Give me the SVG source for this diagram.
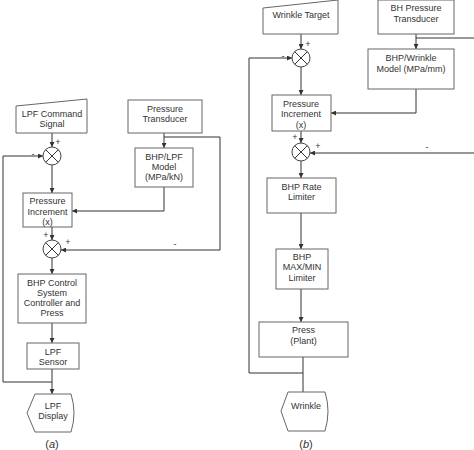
<svg xmlns="http://www.w3.org/2000/svg" width="474" height="450" viewBox="0 0 474 450">
<style>
.box{fill:#fff;stroke:#666;stroke-width:1}
.ln{fill:none;stroke:#333;stroke-width:1}
.sum{fill:#fff;stroke:#444;stroke-width:1}
text{font-family:"Liberation Sans",Arial,sans-serif;font-size:9px;fill:#333;text-anchor:middle}
.sg{font-size:9px}
.cap{font-size:11px}
</style>
<defs>
<marker id="ah" viewBox="0 0 6 6" refX="6" refY="3" markerWidth="5" markerHeight="5" orient="auto" markerUnits="userSpaceOnUse">
<path d="M0,0 L6,3 L0,6 z" fill="#333"/>
</marker>
</defs>
<rect width="474" height="450" fill="#fff"/>
<g id="connectors">
<path class="ln" d="M52,133 V147" marker-end="url(#ah)"/>
<path class="ln" d="M52,165 V193" marker-end="url(#ah)"/>
<path class="ln" d="M52,227 V240" marker-end="url(#ah)"/>
<path class="ln" d="M52,258 V274" marker-end="url(#ah)"/>
<path class="ln" d="M52,323 V343" marker-end="url(#ah)"/>
<path class="ln" d="M52,369 V394" marker-end="url(#ah)"/>
<path class="ln" d="M52,382 H3 V156 H43" marker-end="url(#ah)"/>
<path class="ln" d="M164,133 V148" marker-end="url(#ah)"/>
<path class="ln" d="M164,137 H220 V250 H61" marker-end="url(#ah)"/>
<path class="ln" d="M164,187 V211 H72" marker-end="url(#ah)"/>
<path class="ln" d="M301,34 V49" marker-end="url(#ah)"/>
<path class="ln" d="M301,67 V95" marker-end="url(#ah)"/>
<path class="ln" d="M301,131 V143" marker-end="url(#ah)"/>
<path class="ln" d="M301,161 V178" marker-end="url(#ah)"/>
<path class="ln" d="M301,213 V249" marker-end="url(#ah)"/>
<path class="ln" d="M301,289 V322" marker-end="url(#ah)"/>
<path class="ln" d="M303,357 V392"/>
<path class="ln" d="M303,373 H249 V58 H292" marker-end="url(#ah)"/>
<path class="ln" d="M416,34 V49" marker-end="url(#ah)"/>
<path class="ln" d="M416,38 H474"/>
<path class="ln" d="M474,153 H310" marker-end="url(#ah)"/>
<path class="ln" d="M416,89 V113 H331" marker-end="url(#ah)"/>
<text class="sg" x="58" y="145">+</text>
<text class="sg" x="33" y="157">-</text>
<text class="sg" x="46" y="238">+</text>
<text class="sg" x="68" y="245">+</text>
<text class="sg" x="175" y="247">-</text>
<text class="sg" x="308" y="47">+</text>
<text class="sg" x="283" y="59">-</text>
<text class="sg" x="295" y="140">+</text>
<text class="sg" x="318" y="149">+</text>
<text class="sg" x="427" y="150">-</text>
</g>
<g id="lpf-command">
<path class="box" d="M16,106 L87,99 V133 H16 Z"/>
<text x="52" y="117">LPF Command</text>
<text x="52" y="127">Signal</text>
</g>
<g id="sum-a1">
<circle class="sum" cx="52" cy="156" r="9"/>
<path class="ln" d="M45.6,149.6 L58.4,162.4 M58.4,149.6 L45.6,162.4"/>
</g>
<g id="pressure-transducer">
<rect class="box" x="128" y="100" width="74" height="33"/>
<text x="165" y="112">Pressure</text>
<text x="165" y="122">Transducer</text>
</g>
<g id="bhp-lpf-model">
<rect class="box" x="135" y="148" width="58" height="39"/>
<text x="164" y="160">BHP/LPF</text>
<text x="164" y="170">Model</text>
<text x="164" y="180">(MPa/kN)</text>
</g>
<g id="pressure-increment-a">
<rect class="box" x="23" y="193" width="49" height="34"/>
<text x="47.5" y="204">Pressure</text>
<text x="47.5" y="215">Increment</text>
<text x="47.5" y="225">(x)</text>
</g>
<g id="sum-a2">
<circle class="sum" cx="52" cy="249" r="9"/>
<path class="ln" d="M45.6,242.6 L58.4,255.4 M58.4,242.6 L45.6,255.4"/>
</g>
<g id="bhp-control">
<rect class="box" x="18" y="274" width="68" height="49"/>
<text x="52" y="286">BHP Control</text>
<text x="52" y="296">System</text>
<text x="52" y="306">Controller and</text>
<text x="52" y="316">Press</text>
</g>
<g id="lpf-sensor">
<rect class="box" x="27" y="343" width="52" height="26"/>
<text x="53" y="355">LPF</text>
<text x="53" y="365">Sensor</text>
</g>
<g id="lpf-display">
<path class="box" d="M35,394 H71 Q77,413 71,432 H35 L27,413 Z"/>
<text x="53" y="409">LPF</text>
<text x="53" y="419">Display</text>
</g>
<text class="cap" x="52" y="448">(<tspan font-style="italic">a</tspan>)</text>
<g id="wrinkle-target">
<path class="box" d="M263,8 L338,0 V34 H263 Z"/>
<text x="301" y="18">Wrinkle Target</text>
</g>
<g id="bh-pressure-transducer">
<rect class="box" x="378" y="0" width="76" height="34"/>
<text x="416" y="11">BH Pressure</text>
<text x="416" y="22">Transducer</text>
</g>
<g id="sum-b1">
<circle class="sum" cx="301" cy="58" r="9"/>
<path class="ln" d="M294.6,51.6 L307.4,64.4 M307.4,51.6 L294.6,64.4"/>
</g>
<g id="bhp-wrinkle-model">
<rect class="box" x="368" y="49" width="86" height="40"/>
<text x="411" y="61">BHP/Wrinkle</text>
<text x="411" y="72">Model (MPa/mm)</text>
</g>
<g id="pressure-increment-b">
<rect class="box" x="272" y="95" width="59" height="36"/>
<text x="301" y="107">Pressure</text>
<text x="301" y="117">Increment</text>
<text x="301" y="128">(x)</text>
</g>
<g id="sum-b2">
<circle class="sum" cx="301" cy="152" r="9"/>
<path class="ln" d="M294.6,145.6 L307.4,158.4 M307.4,145.6 L294.6,158.4"/>
</g>
<g id="bhp-rate-limiter">
<rect class="box" x="267" y="178" width="69" height="35"/>
<text x="301.5" y="190">BHP Rate</text>
<text x="301.5" y="200">Limiter</text>
</g>
<g id="bhp-maxmin-limiter">
<rect class="box" x="276" y="249" width="52" height="40"/>
<text x="302" y="260">BHP</text>
<text x="302" y="270">MAX/MIN</text>
<text x="302" y="281">Limiter</text>
</g>
<g id="press-plant">
<rect class="box" x="259" y="322" width="89" height="35"/>
<text x="303.5" y="333">Press</text>
<text x="303.5" y="344">(Plant)</text>
</g>
<g id="wrinkle">
<path class="box" d="M288,392 H325 Q331,411 325,431 H288 L281,411 Z"/>
<text x="306" y="409">Wrinkle</text>
</g>
<text class="cap" x="306" y="448">(<tspan font-style="italic">b</tspan>)</text>
</svg>
